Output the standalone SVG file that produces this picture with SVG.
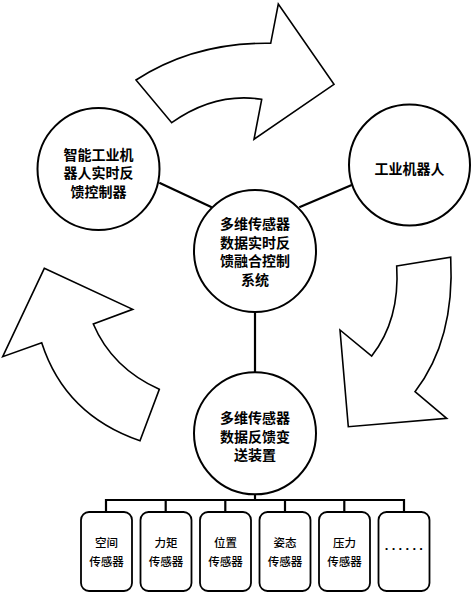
<svg xmlns="http://www.w3.org/2000/svg" width="474" height="594" viewBox="0 0 474 594">
<style>
.bg{fill:#fff}
.arrow{fill:#fff;stroke:#000;stroke-width:1.6;stroke-linejoin:miter}
.node{fill:#fff;stroke:#000;stroke-width:2}
.box{fill:#fff;stroke:#000;stroke-width:1.8}
.conn{stroke:#000;stroke-width:2.2;fill:none}
.t{font-family:"Noto Sans CJK SC","Noto Sans CJK JP",sans-serif;font-size:14px;font-weight:bold;text-anchor:middle;dominant-baseline:central;fill:#000}
.s{font-family:"Noto Sans CJK SC","Noto Sans CJK JP",sans-serif;font-size:11.5px;font-weight:500;text-anchor:middle;dominant-baseline:central;fill:#000}
</style>
<rect class="bg" x="0" y="0" width="474" height="594"/>
<g id="arrows">
<path class="arrow" d="M136,80 Q195,42 270.7,43.3 L278.3,4 L334,84.3 L254,139.3 L261.7,99.3 Q215,92 171.7,122.7 Z"/>
<path class="arrow" d="M44.3,268.3 L132.7,309.3 L93.3,324 Q112,368 159.3,389.3 L140,440.7 Q65,415 41.7,342.7 L2.7,356.7 Z"/>
<path class="arrow" d="M396.7,266 L450.7,257.3 Q455,340 415,391.7 L446.7,418.3 L348.3,426.7 L340,330 L371.7,356 Q400,320 396.7,266 Z"/>
</g>
<g id="connectors">
<line class="conn" x1="159.3" y1="182.7" x2="211.7" y2="207.3"/>
<line class="conn" x1="299.3" y1="207.3" x2="351.7" y2="185"/>
<line class="conn" x1="255" y1="312" x2="255" y2="372.3"/>
<line class="conn" x1="255" y1="494" x2="255" y2="500"/>
<path class="conn" stroke-width="2.6" d="M106,512 V500 H404 V512 M165.7,500 V512 M225.3,500 V512 M285,500 V512 M344.3,500 V512"/>
</g>
<g id="controller">
<circle class="node" cx="98.5" cy="169" r="61"/>
<text class="t" x="98.5" y="154">智能工业机</text>
<text class="t" x="98.5" y="172.3">器人实时反</text>
<text class="t" x="98.5" y="190.7">馈控制器</text>
</g>
<g id="robot">
<circle class="node" cx="409.5" cy="165" r="60.5"/>
<text class="t" x="409.5" y="168.3">工业机器人</text>
</g>
<g id="fusion">
<circle class="node" cx="255" cy="251" r="61"/>
<text class="t" x="255" y="222.7">多维传感器</text>
<text class="t" x="255" y="241.5">数据实时反</text>
<text class="t" x="255" y="260">馈融合控制</text>
<text class="t" x="255" y="278.5">系统</text>
</g>
<g id="transmitter">
<circle class="node" cx="255" cy="433.3" r="61"/>
<text class="t" x="255" y="417.3">多维传感器</text>
<text class="t" x="255" y="435.7">数据反馈变</text>
<text class="t" x="255" y="454">送装置</text>
</g>
<g id="s1"><rect class="box" x="81" y="512" width="51" height="79" rx="8"/><text class="s" x="106.5" y="542.3">空间</text><text class="s" x="106.5" y="560.7">传感器</text></g>
<g id="s2"><rect class="box" x="140.5" y="512" width="51" height="79" rx="8"/><text class="s" x="166" y="542.3">力矩</text><text class="s" x="166" y="560.7">传感器</text></g>
<g id="s3"><rect class="box" x="200" y="512" width="51" height="79" rx="8"/><text class="s" x="225.5" y="542.3">位置</text><text class="s" x="225.5" y="560.7">传感器</text></g>
<g id="s4"><rect class="box" x="259.5" y="512" width="51" height="79" rx="8"/><text class="s" x="285" y="542.3">姿态</text><text class="s" x="285" y="560.7">传感器</text></g>
<g id="s5"><rect class="box" x="319" y="512" width="51" height="79" rx="8"/><text class="s" x="344.5" y="542.3">压力</text><text class="s" x="344.5" y="560.7">传感器</text></g>
<g id="s6"><rect class="box" x="378.5" y="512" width="51" height="79" rx="8"/><text x="405.5" y="545" style="font-family:'Liberation Sans',sans-serif;font-size:13px;font-weight:bold;letter-spacing:3.3px;text-anchor:middle;dominant-baseline:central">......</text></g>
</svg>
